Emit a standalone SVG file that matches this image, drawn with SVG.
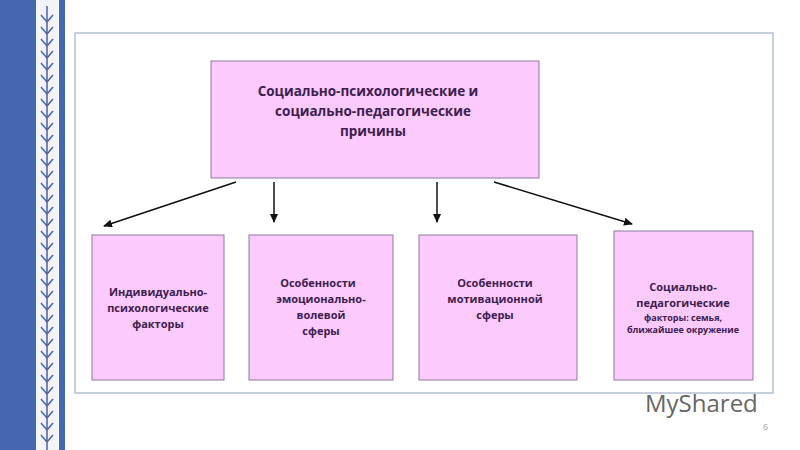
<svg xmlns="http://www.w3.org/2000/svg" width="800" height="450" viewBox="0 0 800 450">
<defs>
<style>
.box{fill:#fccafc;stroke:#8a7a9a;stroke-width:1}
.t{font-family:"Open Sans","Liberation Sans",sans-serif;fill:#3c2050;text-anchor:middle}
.c line{stroke:#111;stroke-width:1.5;marker-end:url(#a)}
</style>
<marker id="a" markerWidth="10" markerHeight="10" refX="8" refY="4" orient="auto" markerUnits="userSpaceOnUse"><path d="M0,0 L9,4 L0,8 z" fill="#111"/></marker>
<g id="leaf"><path d="M0,0 L-6,-7 M0,0 L6,-7" stroke="#4a62a8" stroke-width="1.5" fill="none"/></g>
</defs>
<rect width="800" height="450" fill="#fff"/>
<rect x="0" y="0" width="36" height="450" fill="#4468b0"/>
<rect x="36" y="0" width="22" height="450" fill="#f2f4fa"/>
<rect x="59" y="0" width="6" height="450" fill="#4468b0"/>
<line x1="47" y1="6" x2="47" y2="450" stroke="#4a62a8" stroke-width="1.5"/>
<g>
<use href="#leaf" x="47" y="22"/><use href="#leaf" x="47" y="34"/><use href="#leaf" x="47" y="46"/><use href="#leaf" x="47" y="58"/><use href="#leaf" x="47" y="70"/><use href="#leaf" x="47" y="82"/><use href="#leaf" x="47" y="94"/><use href="#leaf" x="47" y="106"/><use href="#leaf" x="47" y="118"/><use href="#leaf" x="47" y="130"/><use href="#leaf" x="47" y="142"/><use href="#leaf" x="47" y="154"/><use href="#leaf" x="47" y="166"/><use href="#leaf" x="47" y="178"/><use href="#leaf" x="47" y="190"/><use href="#leaf" x="47" y="202"/><use href="#leaf" x="47" y="214"/><use href="#leaf" x="47" y="226"/><use href="#leaf" x="47" y="238"/><use href="#leaf" x="47" y="250"/><use href="#leaf" x="47" y="262"/><use href="#leaf" x="47" y="274"/><use href="#leaf" x="47" y="286"/><use href="#leaf" x="47" y="298"/><use href="#leaf" x="47" y="310"/><use href="#leaf" x="47" y="322"/><use href="#leaf" x="47" y="334"/><use href="#leaf" x="47" y="346"/><use href="#leaf" x="47" y="358"/><use href="#leaf" x="47" y="370"/><use href="#leaf" x="47" y="382"/><use href="#leaf" x="47" y="394"/><use href="#leaf" x="47" y="406"/><use href="#leaf" x="47" y="418"/><use href="#leaf" x="47" y="430"/><use href="#leaf" x="47" y="442"/>
</g>
<rect x="75" y="33" width="698" height="360" fill="#fff" stroke="#b4c0d4" stroke-width="1.5"/>
<g id="main"><rect class="box" x="211" y="61" width="328" height="117"/>
<text class="t" font-size="13.5" font-weight="bold"><tspan x="368" y="96">Социально-психологические и</tspan><tspan x="373" y="116">социально-педагогические</tspan><tspan x="373" y="136">причины</tspan></text></g>
<g id="n1"><rect class="box" x="92" y="235" width="132" height="145"/>
<text class="t" font-size="11" font-weight="bold"><tspan x="158" y="296">Индивидуально-</tspan><tspan x="158" y="312">психологические</tspan><tspan x="158" y="328">факторы</tspan></text></g>
<g id="n2"><rect class="box" x="249" y="235" width="144" height="145"/>
<text class="t" font-size="11" font-weight="bold"><tspan x="318" y="287">Особенности</tspan><tspan x="321" y="303">эмоционально-</tspan><tspan x="321" y="319">волевой</tspan><tspan x="321" y="335">сферы</tspan></text></g>
<g id="n3"><rect class="box" x="419" y="235" width="158" height="145"/>
<text class="t" font-size="11" font-weight="bold"><tspan x="495" y="287">Особенности</tspan><tspan x="495" y="303">мотивационной</tspan><tspan x="495" y="319">сферы</tspan></text></g>
<g id="n4"><rect class="box" x="614" y="231" width="139" height="149"/>
<text class="t" font-weight="bold"><tspan x="683" y="291" font-size="11">Социально-</tspan><tspan x="683" y="307" font-size="11">педагогические</tspan><tspan x="683" y="321" font-size="9">факторы: семья,</tspan><tspan x="683" y="333" font-size="9">ближайшее окружение</tspan></text></g>
<g class="c">
<line x1="236" y1="182" x2="104" y2="226"/>
<line x1="274" y1="182" x2="274" y2="222"/>
<line x1="437" y1="182" x2="437" y2="222"/>
<line x1="494" y1="182" x2="632" y2="224"/>
</g>
<text x="645" y="412" font-family="Open Sans,Liberation Sans,sans-serif" font-size="24" fill="#666">MyShared</text>
<text x="763" y="430" font-family="Liberation Sans,sans-serif" font-size="9" fill="#aaa">6</text>
</svg>
